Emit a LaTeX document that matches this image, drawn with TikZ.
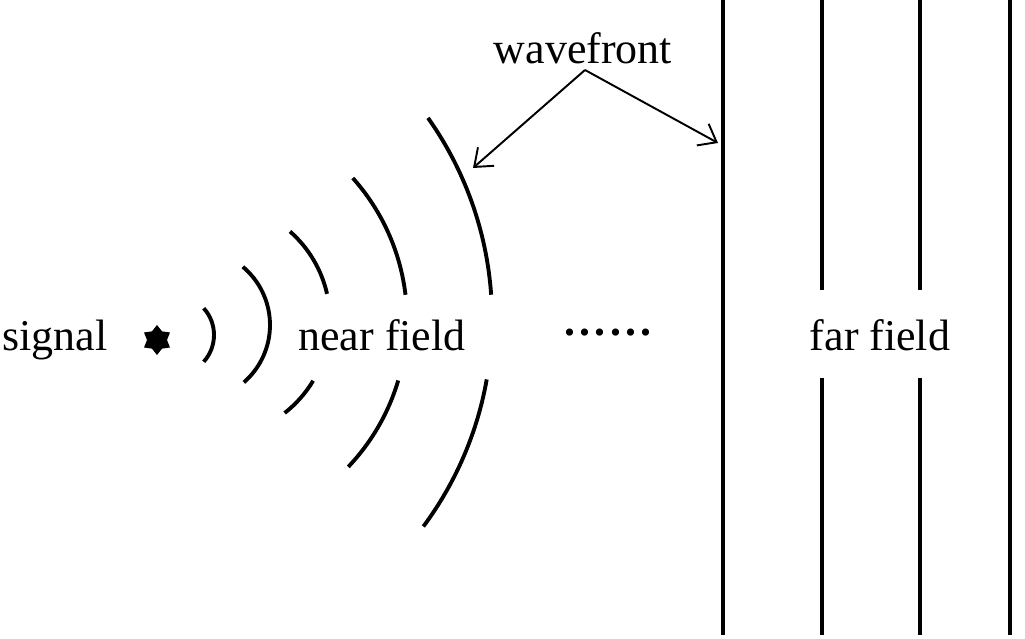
\documentclass[tikz,border=0pt]{standalone}
\usepackage{fontspec}
\setmainfont{Liberation Serif}
\usetikzlibrary{shapes.geometric,arrows.meta}
\begin{document}
\begin{tikzpicture}
      [x=0.02cm,y=0.02cm
      ,wave/.style={line width=2.2pt}
      ,lbl/.style={font=\fontsize{25}{30}\selectfont,inner sep=1pt}
      ,ptr/.style={line width=1.1pt,-{Straight Barb[length=9pt,width=14pt]}}
      ]
        \useasboundingbox (0,0) rectangle (1025,639);
        % source
        \node[star,star points=6,star point ratio=1.5,fill=black,minimum size=0.6cm,inner sep=0pt] (src) at (157,299) {};
        \node[lbl] (sig) at (55,299) {signal};
        \node[lbl] (near) at (382,304) {near field};
        \node[lbl,font=\fontsize{25}{30}\selectfont\bfseries] (dots) at (608,306) {.\kern2.5pt.\kern2.5pt.\kern2.5pt.\kern2.5pt.\kern2.5pt.};
        \node[lbl] (far) at (880,304) {far field};
        \node[lbl] (wf) at (583,591) {wavefront};
        % near field fronts
        \draw[wave] (174,304) ++(42:40) arc (42:-42:40);
        \draw[wave] (194,314) ++(50:76) arc (50:-49:76);
        \draw[wave] (212,319) ++(48.6:118) arc (48.6:12.8:118);
        \draw[wave] (212,319) ++(-31:118) arc (-31:-52:118);
        \draw[wave] (194,319) ++(41.8:213) arc (41.8:6.8:213);
        \draw[wave] (194,319) ++(-16.5:213) arc (-16.5:-43.6:213);
        \draw[wave] (144,320) ++(35.3:348) arc (35.3:4:348);
        \draw[wave] (144,320) ++(-10:348) arc (-10:-36.6:348);
        % far field fronts
        \draw[wave] (723,639) -- (723,4);
        \foreach \x in {822,920} {
          \draw[wave] (\x,639) -- (\x,349);
          \draw[wave] (\x,261) -- (\x,4);
        }
        \draw[wave] (1010,639) -- (1010,4);
        % pointers
        \coordinate (apex) at (585,569);
        \coordinate (tipa) at (473,471);
        \coordinate (tipb) at (718,496);
        \draw[ptr] (apex) -- (tipa);
        \draw[ptr] (apex) -- (tipb);
      \end{tikzpicture}
\end{document}
